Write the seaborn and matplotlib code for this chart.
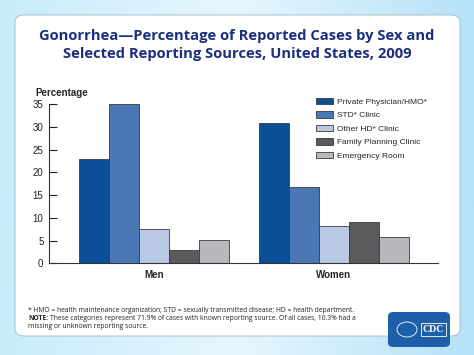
import numpy as np
import pandas as pd
import matplotlib.pyplot as plt
from matplotlib.patches import FancyBboxPatch, Rectangle, Circle
import seaborn as sns

sexes = ["Men", "Women"]
sources = ["Private Physician/HMO*", "STD* Clinic", "Other HD* Clinic",
           "Family Planning Clinic", "Emergency Room"]
men_pct = [22.9, 35.0, 7.6, 3.0, 5.1]
women_pct = [30.9, 16.8, 8.1, 9.1, 5.8]
colors = ["#0b4f98", "#4a78b4", "#bac9e4", "#5b5b5d", "#b9b9bd"]

df = pd.DataFrame({
    "sex": np.repeat(sexes, len(sources)),
    "source": sources * 2,
    "pct": men_pct + women_pct,
})

sns.set_style("white")
plt.rcParams["font.family"] = ["Liberation Sans", "DejaVu Sans"]

W, H = 474, 355
def fx(px):
    return px / W
def fy(py):
    return (H - py) / H

fig = plt.figure(figsize=(4.74, 3.55), dpi=100)
fig.patch.set_facecolor("#bfe7f9")

# background gradient
bg = fig.add_axes([0, 0, 1, 1], zorder=-10)
grad = np.linspace(0, 1, 256).reshape(1, -1)
bg.imshow(grad, aspect="auto",
          cmap=sns.blend_palette(["#c9ecfb", "#e6f6fd", "#b5e2f8"], as_cmap=True),
          extent=[0, 1, 0, 1])
bg.set_axis_off()

# white panel
panel = FancyBboxPatch((fx(15), fy(336)), 445 / W, 321 / H,
                       boxstyle="round,pad=0,rounding_size=0.02",
                       transform=fig.transFigure, facecolor="white",
                       edgecolor="#9fb8c8", linewidth=0.6, zorder=-5)
fig.patches.append(panel)

ax = fig.add_axes([fx(49), fy(263.3), 389 / W, 159.3 / H])
sns.barplot(data=df, x="sex", y="pct", hue="source", hue_order=sources,
            palette=colors, width=0.833, gap=0, edgecolor="#3a3a3a",
            linewidth=0.6, saturation=1, ax=ax)
ax.set_facecolor("none")
ax.set_xlim(-0.583, 1.578)
ax.set_ylim(0, 35)
ax.set_yticks(range(0, 36, 5))
ax.tick_params(axis="y", direction="in", length=6, width=0.8, pad=4,
               labelsize=7, colors="#222222", left=True)
ax.tick_params(axis="x", length=0, labelsize=7, pad=5)
for lbl in ax.get_xticklabels():
    lbl.set_fontweight("bold")
ax.set_xlabel("")
ax.set_ylabel("")
for s in ["top", "right"]:
    ax.spines[s].set_visible(False)
for s in ["left", "bottom"]:
    ax.spines[s].set_color("#333333")
    ax.spines[s].set_linewidth(0.8)

leg = ax.legend(loc="upper left", bbox_to_anchor=(fx(316), fy(97.5)),
                bbox_transform=fig.transFigure, frameon=False, borderaxespad=0,
                borderpad=0, fontsize=6.0, handlelength=2.0, handleheight=0.9,
                handletextpad=0.5, labelspacing=0.62)

fig.text(fx(35), fy(93), "Percentage", fontsize=7, fontweight="bold",
         va="center", ha="left")

fig.text(0.5, fy(45),
         "Gonorrhea\u2014Percentage of Reported Cases by Sex and\nSelected Reporting Sources, United States, 2009",
         ha="center", va="center", fontsize=10.6, fontweight="bold", color="#1b2f7e",
         family=["Open Sans", "DejaVu Sans"], linespacing=1.3)

foot_kw = dict(fontsize=4.85, family=["Open Sans", "DejaVu Sans"], color="#222222",
               va="center")
fig.text(fx(28), fy(310.7),
         "* HMO = health maintenance organization; STD = sexually transmitted disease; HD = health department.",
         **foot_kw)
note = fig.text(fx(28), fy(319), "NOTE:", fontweight="bold", **foot_kw)
fig.canvas.draw()
nb = note.get_window_extent()
fig.text((nb.x1 + 2) / W, fy(319),
         "These categories represent 71.9% of cases with known reporting source. Of all cases, 10.3% had a",
         **foot_kw)
fig.text(fx(28), fy(326.7), "missing or unknown reporting source.", **foot_kw)

# CDC logo
logo = FancyBboxPatch((fx(388), fy(347)), 62 / W, 35 / H,
                      boxstyle="round,pad=0,rounding_size=0.012",
                      transform=fig.transFigure, facecolor="#1d5fa8",
                      edgecolor="none", zorder=5)
fig.patches.append(logo)
fig.patches.append(Circle((fx(407), fy(329.5)), 10 / W,
                          transform=fig.transFigure, facecolor="none",
                          edgecolor="white", linewidth=0.6, zorder=6))
fig.patches.append(Rectangle((fx(421), fy(336)), 25 / W, 13 / H,
                             transform=fig.transFigure, facecolor="none",
                             edgecolor="white", linewidth=0.6, zorder=6))
fig.text(fx(433.5), fy(329.5), "CDC", color="white", fontsize=7,
         fontweight="bold", family=["Liberation Serif", "DejaVu Serif"],
         ha="center", va="center", zorder=7)

fig.savefig("out.png", dpi=100)
